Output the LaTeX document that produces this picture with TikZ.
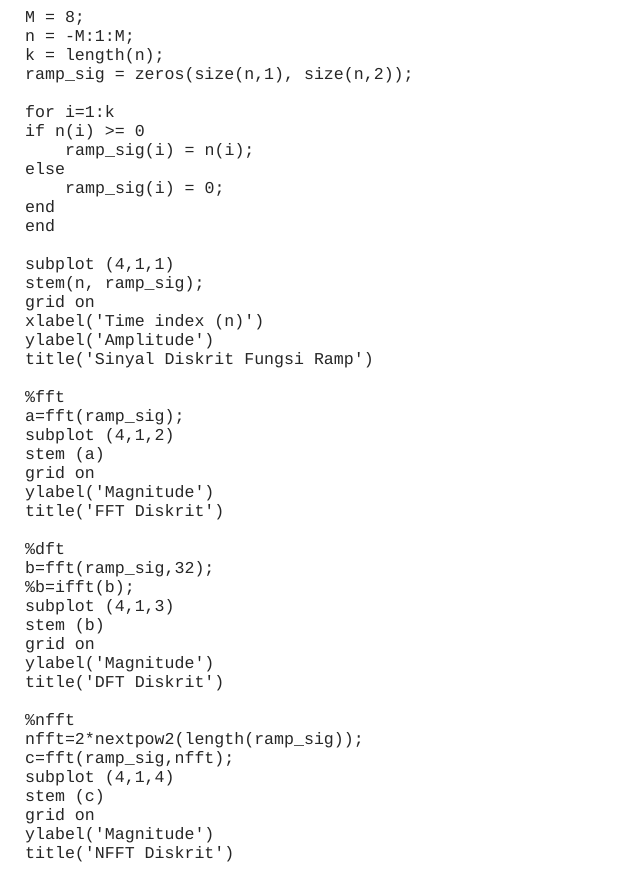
\documentclass[tikz,border=0pt]{standalone}
\usepackage{fontspec}
\newfontfamily\codefont{Liberation Mono}
\begin{document}
\begin{tikzpicture}[x=1pt,y=1pt,codeline/.style={anchor=base west,inner sep=0pt,font=\codefont\fontsize{16.6}{19}\selectfont,text=black!85}]
\fill[white] (0,0) rectangle (621,-871);
\useasboundingbox (0,0) rectangle (621,-871);
\def\L#1#2#3{\node[codeline] (l#1) at (#2,{-22-19*#1}) {#3};}
\L{0}{25}{M = 8;}
\L{1}{25}{n = -M:1:M;}
\L{2}{25}{k = length(n);}
\L{3}{25}{ramp\_sig = zeros(size(n,1), size(n,2));}
\L{5}{25}{for i=1:k}
\L{6}{25}{if n(i) >= 0}
\L{7}{65}{ramp\_sig(i) = n(i);}
\L{8}{25}{else}
\L{9}{65}{ramp\_sig(i) = 0;}
\L{10}{25}{end}
\L{11}{25}{end}
\L{13}{25}{subplot (4,1,1)}
\L{14}{25}{stem(n, ramp\_sig);}
\L{15}{25}{grid on}
\L{16}{25}{xlabel('Time index (n)')}
\L{17}{25}{ylabel('Amplitude')}
\L{18}{25}{title('Sinyal Diskrit Fungsi Ramp')}
\L{20}{25}{\%fft}
\L{21}{25}{a=fft(ramp\_sig);}
\L{22}{25}{subplot (4,1,2)}
\L{23}{25}{stem (a)}
\L{24}{25}{grid on}
\L{25}{25}{ylabel('Magnitude')}
\L{26}{25}{title('FFT Diskrit')}
\L{28}{25}{\%dft}
\L{29}{25}{b=fft(ramp\_sig,32);}
\L{30}{25}{\%b=ifft(b);}
\L{31}{25}{subplot (4,1,3)}
\L{32}{25}{stem (b)}
\L{33}{25}{grid on}
\L{34}{25}{ylabel('Magnitude')}
\L{35}{25}{title('DFT Diskrit')}
\L{37}{25}{\%nfft}
\L{38}{25}{nfft=2*nextpow2(length(ramp\_sig));}
\L{39}{25}{c=fft(ramp\_sig,nfft);}
\L{40}{25}{subplot (4,1,4)}
\L{41}{25}{stem (c)}
\L{42}{25}{grid on}
\L{43}{25}{ylabel('Magnitude')}
\L{44}{25}{title('NFFT Diskrit')}
\end{tikzpicture}
\end{document}
